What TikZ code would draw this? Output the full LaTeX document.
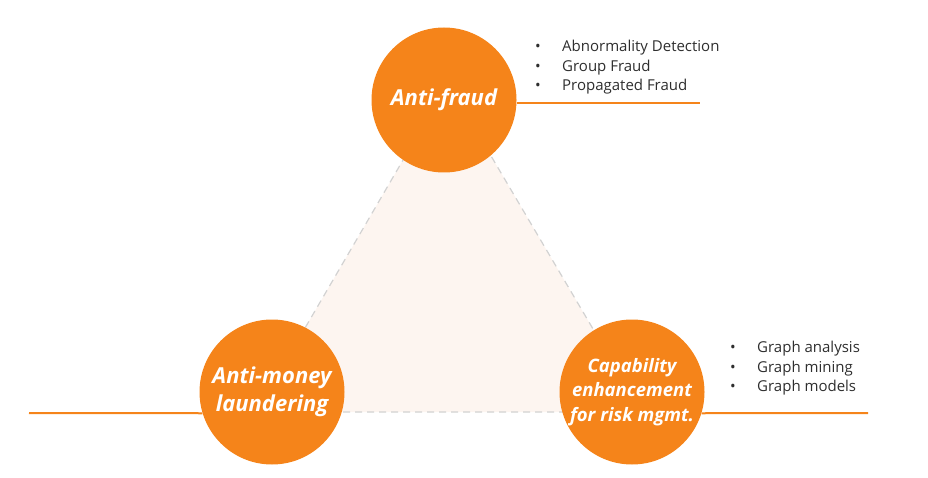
\documentclass[tikz,border=0pt]{standalone}
\usepackage{fontspec}
\setmainfont{Open Sans}
\usepackage{tikz}
\usetikzlibrary{positioning, calc}
\usepackage{xcolor}
\definecolor{riskorange}{HTML}{F5841A}
\definecolor{trifill}{HTML}{FDF5F0}
\definecolor{trigray}{HTML}{D2D2D2}
\definecolor{listtext}{HTML}{2E2E2E}

\begin{document}
\begin{tikzpicture}[x=1pt, y=-1pt,
  topic/.style={circle, fill=riskorange, minimum size=145pt, inner sep=0pt,
    text=white, align=center, font=\fontsize{22}{28}\selectfont\bfseries\itshape},
  small topic/.style={topic, font=\fontsize{18.5}{24.5}\selectfont\bfseries\itshape},
  items/.style={anchor=north west, align=left, inner sep=0pt, text=listtext,
    font=\fontsize{15}{19.5}\selectfont},
  bar/.style={draw=riskorange, line width=2pt},
  tri/.style={draw=trigray, fill=trifill, line width=1.2pt, dash pattern=on 7pt off 5pt}
]
\useasboundingbox (0,0) rectangle (928,478);

% triangle behind the circles
\coordinate (apex) at (448,83);
\coordinate (base-l) at (256,412);
\coordinate (base-r) at (642,412);
\draw [tri] (apex) -- (base-l) -- (base-r) -- cycle;

% circles
\node (fraud) [topic] at (444,100) {Anti-fraud};
\node (aml) [topic] at (272,392) {Anti-money\\laundering};
\node (cap) [small topic] at (632,392) {Capability\\enhancement\\for risk mgmt.};

% free ends of the lines
\coordinate (fraud-end) at (700,103);
\coordinate (aml-end) at (29,413);
\coordinate (cap-end) at (868,413);

% lines
\draw [bar] (fraud.east |- fraud-end) -- (fraud-end);
\draw [bar] (aml.197) -- (aml-end);
\draw [bar] (cap.343) -- (cap-end);

% lists
\node (fraud-list) [items] at (535,40) {%
  \makebox[27pt][l]{\textbullet}Abnormality Detection\\
  \makebox[27pt][l]{\textbullet}Group Fraud\\
  \makebox[27pt][l]{\textbullet}Propagated Fraud};
\node (cap-list) [items] at (730,341) {%
  \makebox[27pt][l]{\textbullet}Graph analysis\\
  \makebox[27pt][l]{\textbullet}Graph mining\\
  \makebox[27pt][l]{\textbullet}Graph models};

\end{tikzpicture}
\end{document}
